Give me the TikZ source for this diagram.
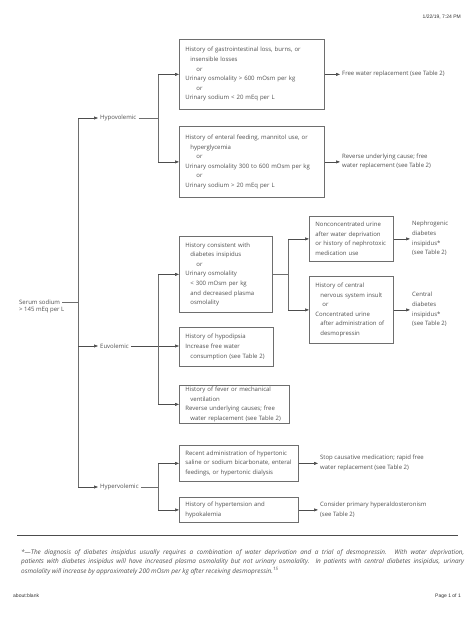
\documentclass[tikz,border=0pt]{standalone}
\usepackage{fontspec}
\setmainfont{Open Sans}
\newfontfamily\hdrfont{Liberation Sans}
\usepackage{xcolor}
\usetikzlibrary{arrows.meta}
\definecolor{txtgray}{RGB}{80,80,80}
\definecolor{linegray}{RGB}{110,110,110}
\newcommand{\indl}{\hspace*{5pt}}
\newcommand{\orl}{\hspace*{11pt}or}
\newcommand{\boxfont}{\fontsize{6}{9.6}\selectfont}
\tikzset{
  cond/.style={rectangle, draw=linegray, line width=0.8pt, anchor=north west,
               align=left, font=\boxfont, text=txtgray, inner xsep=6pt, inner ysep=0pt},
  result/.style={anchor=west, align=left, font=\boxfont, text=txtgray, inner sep=2pt},
  lbl/.style={font=\boxfont, text=txtgray, inner sep=2pt},
  link/.style={draw=linegray, line width=0.6pt},
  arrow/.style={-{Triangle[length=4pt,width=3pt]}, draw=linegray!70!black, line width=0.6pt},
  page/.style={font=\hdrfont\fontsize{5}{6}\selectfont, text=black!80, inner sep=0pt},
}

\begin{document}
\begin{tikzpicture}[x=1pt, y=-1pt]
  \fill[white] (0,0) rectangle (474,632);
  \useasboundingbox (0,0) rectangle (474,632);
  % page header and footer
  \node[page, anchor=east] (stamp) at (461,17) {1/22/19, 7:24 PM};
  \node[page, anchor=west] (url) at (13,596) {about:blank};
  \node[page, anchor=east] (pageno) at (461,596) {Page 1 of 1};
  % branch columns
  \coordinate (trunk) at (78,0);
  \coordinate (branch) at (158,0);
  \coordinate (split) at (288,0);
  % volume status
  \node[lbl, anchor=west] (serum) at (17,302) {Serum sodium};
  \node[lbl, anchor=north west, inner ysep=0pt] (serumb) at (serum.south west) {> 145 mEq per L};
  \node[lbl, anchor=west] (hypo) at (98,118) {Hypovolemic};
  \node[lbl, anchor=west] (euvo) at (98,346) {Euvolemic};
  \node[lbl, anchor=west] (hyper) at (98,487) {Hypervolemic};
  % hypovolemic
  \node[cond, text width=133pt, minimum height=70pt] (gi) at (179,39)
    {History of gastrointestinal loss, burns, or\\\indl insensible losses\\\orl\\Urinary osmolality > 600 mOsm per kg\\\orl\\Urinary sodium < 20 mEq per L};
  \node[cond, text width=133pt, minimum height=71pt] (enteral) at (179,126)
    {History of enteral feeding, mannitol use, or\\\indl hyperglycemia\\\orl\\Urinary osmolality 300 to 600 mOsm per kg\\\orl\\Urinary sodium > 20 mEq per L};
  \node[result] (freewater) at (340,74) {Free water replacement (see Table 2)};
  \node[result] (reverse) at (340,161.5) {Reverse underlying cause; free\\water replacement (see Table 2)};
  % euvolemic
  \node[cond, text width=81pt, minimum height=76pt] (di) at (179,236)
    {History consistent with\\\indl diabetes insipidus\\\orl\\Urinary osmolality\\\indl < 300 mOsm per kg\\\indl and decreased plasma\\\indl osmolality};
  \node[cond, text width=82pt, minimum height=39pt] (hypodip) at (179,327)
    {History of hypodipsia\\Increase free water\\\indl consumption (see Table 2)};
  \node[cond, text width=98pt, minimum height=38pt] (fever) at (179,385)
    {History of fever or mechanical\\\indl ventilation\\Reverse underlying causes; free\\\indl water replacement (see Table 2)};
  \node[cond, text width=72pt, minimum height=45pt] (noncon) at (309,216)
    {Nonconcentrated urine\\after water deprivation\\or history of nephrotoxic\\medication use};
  \node[cond, text width=72pt, minimum height=67pt] (cns) at (309,276)
    {History of central\\\indl nervous system insult\\\hspace*{7pt}or\\Concentrated urine\\\indl after administration of\\\indl desmopressin};
  \node[result] (nephro) at (410,238.5) {Nephrogenic\\diabetes\\insipidus*\\(see Table 2)};
  \node[result] (central) at (410,309.5) {Central\\diabetes\\insipidus*\\(see Table 2)};
  % hypervolemic
  \node[cond, text width=107pt, minimum height=36pt] (hypertonic) at (179,445)
    {Recent administration of hypertonic\\saline or sodium bicarbonate, enteral\\feedings, or hypertonic dialysis};
  \node[cond, text width=107pt, minimum height=25pt] (hypokal) at (179,497)
    {History of hypertension and\\hypokalemia};
  \node[result] (stopmed) at (318,463) {Stop causative medication; rapid free\\water replacement (see Table 2)};
  \node[result] (aldo) at (318,509.5) {Consider primary hyperaldosteronism\\(see Table 2)};
  % connectors
  \draw[link] (serum.east) -- (serum.east -| trunk);
  \draw[link] (trunk |- hypo.west) -- (trunk |- hyper.west);
  \draw[arrow] (trunk |- hypo.west) -- (hypo.west);
  \draw[arrow] (trunk |- euvo.west) -- (euvo.west);
  \draw[arrow] (trunk |- hyper.west) -- (hyper.west);
  \draw[link] (hypo.east) -- (hypo.east -| branch);
  \draw[link] (branch |- gi.west) -- (branch |- enteral.west);
  \draw[arrow] (branch |- gi.west) -- (gi.west);
  \draw[arrow] (branch |- enteral.west) -- (enteral.west);
  \draw[arrow] (euvo.east) -- (euvo.east -| hypodip.west);
  \draw[link] (branch |- di.west) -- (branch |- fever.west);
  \draw[arrow] (branch |- di.west) -- (di.west);
  \draw[arrow] (branch |- fever.west) -- (fever.west);
  \draw[link] (di.east) -- (di.east -| split);
  \draw[link] (split |- noncon.west) -- (split |- cns.west);
  \draw[arrow] (split |- noncon.west) -- (noncon.west);
  \draw[arrow] (split |- cns.west) -- (cns.west);
  \draw[link] (hyper.east) -- (hyper.east -| branch);
  \draw[link] (branch |- hypertonic.west) -- (branch |- hypokal.west);
  \draw[arrow] (branch |- hypertonic.west) -- (hypertonic.west);
  \draw[arrow] (branch |- hypokal.west) -- (hypokal.west);
  \draw[arrow] (gi.east) -- (gi.east -| freewater.west);
  \draw[arrow] (enteral.east) -- (enteral.east -| reverse.west);
  \draw[arrow] (noncon.east) -- (noncon.east -| nephro.west);
  \draw[arrow] (cns.east) -- (cns.east -| central.west);
  \draw[arrow] (hypertonic.east) -- (hypertonic.east -| stopmed.west);
  \draw[arrow] (hypokal.east) -- (hypokal.east -| aldo.west);
  % footnote
  \coordinate (rulel) at (17,535);
  \coordinate (ruler) at (458,535);
  \draw[draw=black!70, line width=0.8pt] (rulel) -- (ruler);
  \node[anchor=north west, text width=443pt, align=justify, inner sep=0pt, text=txtgray,
        font=\itshape\fontsize{6.4}{9.6}\selectfont] (note) at (21,549)
    {*---The diagnosis of diabetes insipidus usually requires a combination of water deprivation and a trial of desmopressin. With water deprivation,\linebreak
     patients with diabetes insipidus will have increased plasma osmolality but not urinary osmolality. In patients with central diabetes insipidus, urinary\linebreak
     osmolality will increase by approximately 200 mOsm per kg after receiving desmopressin.\textsuperscript{15}};
\end{tikzpicture}
\end{document}
